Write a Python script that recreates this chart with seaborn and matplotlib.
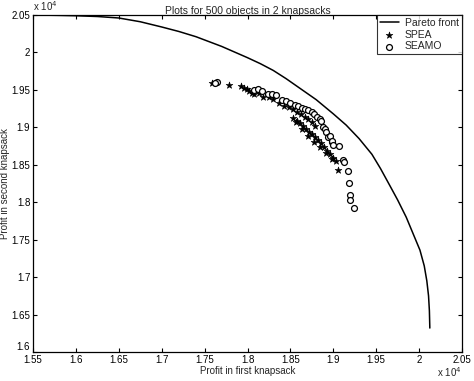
import matplotlib
matplotlib.use("Agg")
import matplotlib.pyplot as plt
import seaborn as sns
import pandas as pd
from matplotlib.ticker import FixedLocator, FuncFormatter

# Values in units of 10^4
front_x = [1.55, 1.58, 1.60, 1.625, 1.65, 1.675, 1.70, 1.72, 1.74, 1.77, 1.80, 1.815, 1.83,
           1.845, 1.86, 1.88, 1.90, 1.915, 1.93, 1.945, 1.955, 1.966, 1.975, 1.985, 1.993,
           2.001, 2.006, 2.009, 2.011, 2.012, 2.0125]
front_y = [2.05, 2.0495, 2.049, 2.048, 2.046, 2.041, 2.034, 2.028, 2.021, 2.008, 1.993, 1.985,
           1.976, 1.965, 1.953, 1.937, 1.918, 1.903, 1.885, 1.864, 1.845, 1.822, 1.803, 1.78,
           1.758, 1.736, 1.715, 1.695, 1.675, 1.655, 1.632]

spea_x = [1.759, 1.778, 1.793, 1.796, 1.799, 1.802, 1.805, 1.808, 1.813, 1.818, 1.825,
          1.830, 1.837, 1.843, 1.848, 1.853, 1.858, 1.862, 1.867, 1.871, 1.875, 1.879,
          1.853, 1.858, 1.861, 1.865, 1.868, 1.872, 1.875, 1.879, 1.882, 1.886, 1.889,
          1.893, 1.896, 1.900, 1.903, 1.856, 1.863, 1.870, 1.877, 1.884, 1.891, 1.898, 1.906]
spea_y = [1.959, 1.957, 1.955, 1.953, 1.951, 1.949, 1.946, 1.944, 1.946, 1.941, 1.940,
          1.938, 1.933, 1.929, 1.927, 1.925, 1.921, 1.918, 1.914, 1.911, 1.907, 1.902,
          1.9125, 1.9085, 1.9058, 1.9018, 1.8978, 1.8938, 1.8911, 1.8871, 1.8831, 1.8791, 1.8737,
          1.8684, 1.8644, 1.8591, 1.855, 1.907, 1.898, 1.889, 1.881, 1.874, 1.866, 1.858, 1.843]

seamo_x = [1.764, 1.762, 1.807, 1.812, 1.817, 1.824, 1.829, 1.833, 1.840, 1.845, 1.850,
           1.855, 1.859, 1.863, 1.867, 1.871, 1.875, 1.878, 1.881, 1.884, 1.886, 1.888,
           1.890, 1.892, 1.894, 1.896, 1.898, 1.899, 1.900, 1.907, 1.911, 1.912, 1.917,
           1.918, 1.919, 1.920, 1.924]
seamo_y = [1.9605, 1.959, 1.950, 1.951, 1.948, 1.945, 1.944, 1.943, 1.937, 1.935, 1.933,
           1.930, 1.928, 1.926, 1.924, 1.923, 1.921, 1.918, 1.914, 1.911, 1.908, 1.901,
           1.898, 1.894, 1.887, 1.888, 1.881, 1.882, 1.876, 1.875, 1.857, 1.854, 1.842,
           1.826, 1.810, 1.803, 1.792]

xticks = [1.55, 1.6, 1.65, 1.7, 1.75, 1.8, 1.85, 1.9, 1.95, 2, 2.05]
yticks = [1.6, 1.65, 1.7, 1.75, 1.8, 1.85, 1.9, 1.95, 2, 2.05]

title = "Plots for 500 objects in 2 knapsacks"
xlabel = "Profit in first knapsack"
ylabel = "Profit in second knapsack"

sns.set_theme(style="white")
plt.rcParams['font.family'] = ['Liberation Sans', 'DejaVu Sans']

fig = plt.figure(figsize=(4.74, 3.81), dpi=100)
ax = fig.add_axes([33/474, 1-352/381, (462-33)/474, (352-15)/381])

front = pd.DataFrame({"x": front_x, "y": front_y})
spea = pd.DataFrame({"x": spea_x, "y": spea_y})
seamo = pd.DataFrame({"x": seamo_x, "y": seamo_y})

sns.lineplot(data=front, x="x", y="y", sort=False, color="black", linewidth=1.1,
             ax=ax, label="Pareto front")
sns.scatterplot(data=spea, x="x", y="y", marker="*", s=26, color="black",
                edgecolor="black", linewidth=0.4, ax=ax, label="SPEA")
sns.scatterplot(data=seamo, x="x", y="y", marker="o", s=18, facecolor="white",
                edgecolor="black", linewidth=0.9, ax=ax, label="SEAMO")

ax.set_xlim(1.55, 2.05)
ax.set_ylim(1.6, 2.05)
ax.xaxis.set_major_locator(FixedLocator(xticks))
ax.yaxis.set_major_locator(FixedLocator(yticks))
fmt = FuncFormatter(lambda v, p: "%g" % round(v, 4))
ax.xaxis.set_major_formatter(fmt)
ax.yaxis.set_major_formatter(fmt)
ax.tick_params(direction="in", length=3, width=0.8, labelsize=7, top=True, right=True,
               bottom=True, left=True, colors="black", pad=2)
for s in ax.spines.values():
    s.set_color("black")
    s.set_linewidth(0.9)

fig.canvas.draw()
ylabels = ax.get_yticklabels()
ylabels[0].set_va("bottom")

ax.set_xlabel(xlabel, fontsize=7, labelpad=1)
ax.set_ylabel(ylabel, fontsize=7, labelpad=1)
ax.set_title(title, fontsize=7.5, pad=1)

ax.text(0.0, 1.005, r"x 10$^4$", transform=ax.transAxes, fontsize=7, ha="left", va="bottom")
ax.text(1.0, -0.04, r"x 10$^4$", transform=ax.transAxes, fontsize=7, ha="right", va="top")

leg = ax.legend(loc="upper right", fontsize=7.5, frameon=True, fancybox=False,
                borderaxespad=0.0, handlelength=1.8, borderpad=0.3, labelspacing=0.15,
                handletextpad=0.6)
leg.get_frame().set_edgecolor("black")
leg.get_frame().set_linewidth(0.8)

fig.savefig("out.png", dpi=100)
